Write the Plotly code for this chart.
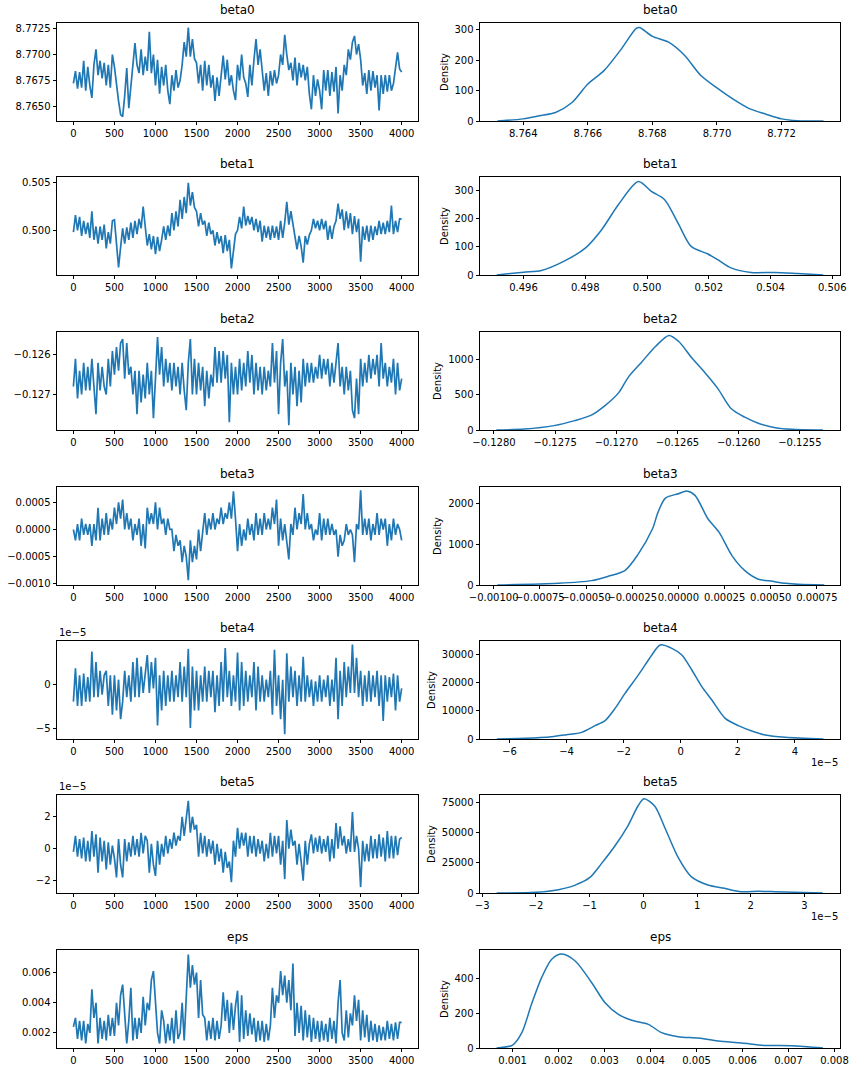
import plotly.graph_objects as go

# ---------------- data ----------------
names = ["beta0", "beta1", "beta2", "beta3", "beta4", "beta5", "eps"]
iters = list(range(0, 4001, 25))

# trace values every 25 iterations (one row = 100 iterations)
beta0_trace = [
    8.7672, 8.7684, 8.7667, 8.7683,  8.7668, 8.7694, 8.7665, 8.7688,  8.7670, 8.7658, 8.7690, 8.7705,
    8.7680, 8.7694, 8.7677, 8.7692,  8.7670, 8.7690, 8.7668, 8.7700,  8.7688, 8.7670, 8.7655, 8.7642,
    8.7640, 8.7660, 8.7687, 8.7648,  8.7670, 8.7685, 8.7711, 8.7690,  8.7682, 8.7705, 8.7680, 8.7698,
    8.7684, 8.7722, 8.7682, 8.7700,  8.7670, 8.7695, 8.7662, 8.7688,  8.7670, 8.7690, 8.7665, 8.7652,
    8.7680, 8.7665, 8.7685, 8.7668,  8.7675, 8.7690, 8.7712, 8.7698,  8.7726, 8.7698, 8.7715, 8.7696,
    8.7692, 8.7672, 8.7690, 8.7665,  8.7694, 8.7670, 8.7690, 8.7668,  8.7680, 8.7655, 8.7678, 8.7660,
    8.7680, 8.7699, 8.7676, 8.7695,  8.7670, 8.7680, 8.7665, 8.7656,  8.7690, 8.7675, 8.7700, 8.7678,
    8.7672, 8.7659, 8.7690, 8.7670,  8.7695, 8.7715, 8.7690, 8.7705,  8.7685, 8.7665, 8.7682, 8.7660,
    8.7684, 8.7670, 8.7685, 8.7672,  8.7680, 8.7700, 8.7690, 8.7719,  8.7700, 8.7685, 8.7692, 8.7675,
    8.7697, 8.7670, 8.7692, 8.7678,  8.7690, 8.7675, 8.7688, 8.7662,  8.7647, 8.7680, 8.7660, 8.7676,
    8.7665, 8.7647, 8.7685, 8.7665,  8.7685, 8.7660, 8.7683, 8.7664,  8.7688, 8.7643, 8.7680, 8.7665,
    8.7690, 8.7680, 8.7705, 8.7695,  8.7712, 8.7718, 8.7700, 8.7710,  8.7695, 8.7670, 8.7682, 8.7662,
    8.7685, 8.7665, 8.7684, 8.7668,  8.7680, 8.7646, 8.7680, 8.7662,  8.7680, 8.7664, 8.7680, 8.7665,
    8.7672, 8.7690, 8.7702, 8.7686,  8.7683]
beta1_trace = [
    0.4998, 0.5016, 0.5000, 0.5014,  0.4994, 0.5010, 0.4996, 0.5008,  0.4992, 0.5020, 0.4990, 0.5004,
    0.4986, 0.5004, 0.4990, 0.5006,  0.4981, 0.4998, 0.4986, 0.5010,  0.5011, 0.4985, 0.4961, 0.4982,
    0.5002, 0.4986, 0.5003, 0.4990,  0.5008, 0.4992, 0.5010, 0.4996,  0.5012, 0.5002, 0.5025, 0.5004,
    0.4984, 0.4996, 0.4980, 0.4994,  0.4975, 0.4993, 0.4978, 0.4990,  0.5004, 0.4990, 0.5005, 0.4994,
    0.5018, 0.5000, 0.5020, 0.5004,  0.5032, 0.5012, 0.5035, 0.5018,  0.5050, 0.5026, 0.5040, 0.5024,
    0.5020, 0.5004, 0.5018, 0.5006,  0.5010, 0.4994, 0.5008, 0.4996,  0.5000, 0.4984, 0.4998, 0.4986,
    0.4994, 0.4976, 0.4995, 0.4978,  0.4990, 0.4960, 0.4982, 0.4996,  0.5000, 0.5014, 0.5002, 0.5025,
    0.5005, 0.5015, 0.5006, 0.5014,  0.5000, 0.5012, 0.4998, 0.5010,  0.4988, 0.5005, 0.4992, 0.5004,
    0.4990, 0.5005, 0.4992, 0.5004,  0.4990, 0.5010, 0.4992, 0.5008,  0.5030, 0.5006, 0.5020, 0.5005,
    0.4995, 0.4980, 0.4994, 0.4983,  0.4966, 0.4994, 0.4985, 0.4995,  0.5000, 0.5012, 0.5002, 0.5010,
    0.5000, 0.5012, 0.5001, 0.5010,  0.4990, 0.5005, 0.4991, 0.5004,  0.5010, 0.5028, 0.5012, 0.5022,
    0.5000, 0.5020, 0.5002, 0.5018,  0.4996, 0.5015, 0.4998, 0.5012,  0.4967, 0.5004, 0.4990, 0.5005,
    0.4988, 0.5005, 0.4990, 0.5004,  0.4995, 0.5010, 0.4996, 0.5008,  0.4996, 0.5010, 0.4998, 0.5026,
    0.4996, 0.5010, 0.4998, 0.5012,  0.5012]
beta2_trace = [
    -0.1268, -0.1261, -0.1271, -0.1264,  -0.1270, -0.1262, -0.1269, -0.1263,  -0.1269, -0.1261, -0.1268, -0.1275,
    -0.1262, -0.1269, -0.1263, -0.1268,  -0.1270, -0.1261, -0.1268, -0.1259,  -0.1265, -0.1258, -0.1264, -0.1257,
    -0.1256, -0.1266, -0.1257, -0.1265,  -0.1263, -0.1270, -0.1264, -0.1275,  -0.1264, -0.1272, -0.1265, -0.1271,
    -0.1262, -0.1270, -0.1264, -0.1276,  -0.1266, -0.12555, -0.1265, -0.1258,  -0.1268, -0.1261, -0.1267, -0.1262,
    -0.1269, -0.1262, -0.1268, -0.1263,  -0.1270, -0.1262, -0.1269, -0.1274,  -0.1262, -0.1256, -0.1270, -0.1261,
    -0.1270, -0.1262, -0.1269, -0.1263,  -0.1273, -0.1264, -0.1271, -0.1265,  -0.1268, -0.1258, -0.1267, -0.1259,
    -0.1267, -0.1259, -0.1266, -0.1260,  -0.1277, -0.1262, -0.1270, -0.1263,  -0.1270, -0.1261, -0.1269, -0.1262,
    -0.1268, -0.1259, -0.1267, -0.1260,  -0.1270, -0.1262, -0.1269, -0.1263,  -0.1270, -0.1263, -0.1269, -0.1264,
    -0.1268, -0.1257, -0.1267, -0.1259,  -0.1275, -0.1262, -0.1256, -0.1268,  -0.1264, -0.12778, -0.1262, -0.1270,
    -0.1263, -0.1273, -0.1264, -0.1272,  -0.1261, -0.1268, -0.1262, -0.1267,  -0.1262, -0.1267, -0.1263, -0.1266,
    -0.1260, -0.1266, -0.1261, -0.1265,  -0.1261, -0.1268, -0.1262, -0.1267,  -0.1262, -0.1257, -0.1268, -0.1263,
    -0.1270, -0.1263, -0.1269, -0.1264,  -0.1274, -0.1276, -0.1266, -0.1275,  -0.1261, -0.1268, -0.1262, -0.1267,
    -0.1260, -0.1266, -0.1261, -0.1265,  -0.1260, -0.1268, -0.1257, -0.1266,  -0.1262, -0.1268, -0.1263, -0.1267,
    -0.1261, -0.1270, -0.1262, -0.1269,  -0.1266]
beta3_trace = [
    0.0000, -0.0002, 0.0001, -0.0002,  0.0002, -0.0001, 0.0001, -0.0001,  0.0001, -0.0003, 0.0001, -0.0002,
    0.0004, -0.0002, 0.0002, -0.0001,  0.0003, -0.0001, 0.0002, 0.0000,  0.0004, 0.0001, 0.0005, 0.0002,
    0.00055, 0.0000, 0.0003, 0.0000,  0.0002, -0.0002, 0.0001, -0.0001,  0.0002, -0.0003, 0.0001, -0.00035,
    0.0004, 0.0001, 0.0003, 0.0001,  0.0005, 0.0000, 0.0004, 0.0001,  0.0002, -0.0001, 0.0002, 0.0000,
    0.0000, -0.0004, -0.0001, -0.0003,  -0.0002, -0.0006, -0.0003, -0.0005,  -0.00093, -0.0002, -0.0006, -0.0003,
    -0.00055, 0.0000, -0.0004, -0.0001,  0.0003, -0.0001, 0.0002, 0.0000,  0.0003, 0.0000, 0.0002, 0.0001,
    0.0004, 0.0001, 0.0003, 0.0002,  0.0005, 0.0002, 0.0007, 0.0002,  -0.0004, 0.0001, -0.0003, 0.0000,
    -0.0002, 0.0002, -0.0001, 0.0001,  -0.0002, 0.0003, -0.0001, 0.0002,  -0.0001, 0.0003, 0.0000, 0.0002,
    0.0000, 0.0004, 0.0001, 0.00055,  -0.0003, 0.0002, -0.0002, 0.0001,  -0.0002, -0.00055, 0.0001, -0.0001,
    0.0004, 0.0000, 0.0003, 0.0001,  0.00065, 0.0000, 0.0003, 0.0000,  0.0001, -0.0002, 0.0000, -0.0001,
    0.0003, -0.0002, 0.0002, -0.0001,  0.0002, -0.0001, 0.0001, -0.0001,  0.0000, -0.0005, -0.0001, -0.0003,
    -0.0002, 0.0001, -0.0001, 0.0000,  -0.0001, -0.0006, 0.0001, 0.0000,  0.00072, -0.0001, 0.0002, -0.0001,
    0.0002, -0.0002, 0.0001, -0.0001,  0.0003, -0.0001, 0.0002, 0.0000,  0.0002, -0.0003, 0.0001, -0.0002,
    0.0002, -0.0001, 0.0001, 0.0000,  -0.0002]
# beta4 and beta5 in units of 1e-5
beta4_trace_e5 = [
    -2.0, 1.8, -2.5, 1.0,  -2.5, 1.2, -2.0, 0.8,  -2.0, 3.7, -1.5, 2.5,  -1.5, 1.5, -1.2, 1.0,
    1.5, -2.5, 1.0, -3.5,  1.0, -3.0, 0.5, -4.0,  -2.0, 1.5, -1.5, 1.0,  -2.0, 2.5, -1.5, 3.0,
    -1.5, 2.0, -1.0, 1.5,  3.3, -1.0, 2.5, -0.5,  3.0, -4.7, 1.0, -3.0,  1.5, -2.5, 1.0, -2.0,
    1.5, -2.0, 1.0, -1.5,  2.5, -2.0, 2.0, -1.5,  4.0, -5.0, 2.0, -3.0,  1.5, -3.0, 1.0, -2.0,
    2.0, -2.0, 1.5, -1.5,  1.5, -3.2, 1.0, -2.5,  2.5, -2.0, 4.1, -1.5,  1.5, -2.5, 1.0, -2.0,
    3.6, -3.0, 2.5, -2.5,  1.5, -2.0, 1.0, -1.5,  2.5, -3.0, 2.0, -2.0,  1.0, -2.0, 0.5, -1.5,
    1.5, -3.5, 3.9, -2.5,  1.0, -4.0, 0.5, -5.7,  3.5, -2.0, 2.0, -1.5,  1.5, -2.5, 1.0, -2.0,
    3.1, -2.0, 1.0, -1.5,  0.5, -2.5, 0.3, -2.0,  1.0, -2.0, 0.5, -1.5,  1.0, -2.5, 0.5, -2.0,
    3.0, -4.0, 1.5, -2.5,  2.5, -1.5, 2.0, -1.0,  4.5, -1.0, 3.0, -1.5,  1.5, -2.5, 1.0, -2.0,
    1.5, -2.0, 1.0, -1.5,  1.5, -2.5, 1.0, -4.2,  1.0, -2.0, 0.8, -1.5,  1.2, -3.0, 1.0, -2.0,
    -0.5]
beta5_trace_e5 = [
    -0.2, 0.8, -0.5, 0.6,  -0.6, 0.7, -0.8, 0.5,  -0.8, 1.1, -0.5, 0.9,  -1.5, 0.7, -0.8, 0.5,
    -1.3, 0.4, -1.0, 0.2,  -0.6, -1.8, 0.6, -1.0,  -1.8, 0.6, -0.8, 0.4,  -0.5, 0.8, -0.4, 0.6,
    -0.5, 1.0, -0.3, 0.8,  0.5, -1.5, 0.3, -1.0,  -1.7, 0.5, -1.0, 0.3,  -0.5, 0.8, -0.3, 0.6,
    0.0, 1.0, 0.2, 0.8,  0.5, 2.0, 0.8, 1.8,  3.0, 1.0, 2.0, 1.2,  1.5, -0.5, 1.0, -0.3,
    0.8, -0.5, 0.6, -0.3,  0.5, -1.0, 0.3, -0.8,  0.0, -1.5, -0.2, -1.2,  -0.8, -2.1, 0.5, -0.5,
    1.3, 0.0, 1.0, 0.2,  1.0, -0.5, 0.8, -0.3,  0.8, -0.5, 0.6, -0.3,  0.5, -0.8, 0.3, -0.6,
    1.0, -0.5, 0.8, -0.3,  0.8, -1.0, 0.5, -1.9,  1.8, 0.0, 1.2, 0.2,  0.5, -1.0, 0.3, -0.8,
    -2.0, 0.5, -1.0, 0.3,  0.9, -0.3, 0.7, -0.2,  0.8, -0.3, 0.6, -0.2,  0.8, -0.8, 0.6, -0.6,
    1.6, 0.0, 1.4, 0.2,  0.8, -0.3, 0.6, -0.2,  2.3, -0.2, 0.8, 0.0,  -2.4, 0.5, -0.8, 0.3,
    -0.8, 0.8, -0.6, 0.6,  -0.6, 0.9, -0.5, 0.7,  -0.8, 1.1, -0.6, 0.8,  -0.6, 0.8, -0.4, 0.6,
    0.7]
eps_trace = [
    0.0024, 0.0030, 0.0016, 0.0028,  0.0015, 0.0028, 0.0013, 0.0026,  0.0020, 0.0049, 0.0030, 0.0040,
    0.0013, 0.0030, 0.0016, 0.0028,  0.0015, 0.0032, 0.0018, 0.0030,  0.0018, 0.0040, 0.0025, 0.0045,
    0.0052, 0.0030, 0.0013, 0.0028,  0.0050, 0.0015, 0.0030, 0.0016,  0.0030, 0.0020, 0.0044, 0.0025,
    0.0040, 0.0035, 0.0055, 0.0061,  0.0040, 0.0020, 0.0013, 0.0035,  0.0028, 0.0013, 0.0026, 0.0015,
    0.0030, 0.0013, 0.0035, 0.0016,  0.0020, 0.0040, 0.0015, 0.0045,  0.0072, 0.0050, 0.0065, 0.0052,
    0.0060, 0.0030, 0.0055, 0.0032,  0.0030, 0.0015, 0.0028, 0.0016,  0.0030, 0.0015, 0.0028, 0.0016,
    0.0025, 0.0047, 0.0028, 0.0042,  0.0020, 0.0040, 0.0022, 0.0038,  0.0048, 0.0014, 0.0045, 0.0016,
    0.0035, 0.0018, 0.0033, 0.0019,  0.0030, 0.0014, 0.0028, 0.0015,  0.0028, 0.0014, 0.0026, 0.0015,
    0.0025, 0.0050, 0.0030, 0.0045,  0.0040, 0.0061, 0.0045, 0.0058,  0.0040, 0.0055, 0.0035, 0.0066,
    0.0018, 0.0040, 0.0020, 0.0038,  0.0015, 0.0035, 0.0017, 0.0032,  0.0014, 0.0030, 0.0016, 0.0028,
    0.0014, 0.0028, 0.0015, 0.0026,  0.0014, 0.0030, 0.0016, 0.0028,  0.0013, 0.0040, 0.0055, 0.0020,
    0.0015, 0.0035, 0.0017, 0.0033,  0.0025, 0.0045, 0.0028, 0.0042,  0.0015, 0.0035, 0.0017, 0.0032,
    0.0014, 0.0028, 0.0015, 0.0026,  0.0014, 0.0025, 0.0015, 0.0024,  0.0015, 0.0028, 0.0016, 0.0026,
    0.0015, 0.0027, 0.0016, 0.0027,  0.0027]

# KDE curves (x, density)
beta0_kde_x = [8.7632, 8.7640, 8.7645, 8.7650, 8.7655, 8.7660, 8.7665, 8.7670, 8.7675, 8.7676,
               8.7680, 8.7685, 8.7690, 8.7695, 8.7700, 8.7705, 8.7710, 8.7715, 8.7720, 8.7725, 8.7733]
beta0_kde_y = [0, 7, 17, 28, 60, 122, 166, 232, 305, 308, 279, 260, 216, 150, 109, 72, 41, 23, 7, 1, 0]
beta1_kde_x = [0.49513, 0.4960, 0.49658, 0.4973, 0.4980, 0.49853, 0.49907, 0.49972, 0.50014, 0.50057,
               0.50100, 0.50143, 0.50197, 0.50229, 0.50272, 0.50337, 0.50413, 0.50488, 0.50571]
beta1_kde_y = [0, 10, 16, 48, 95, 160, 248, 330, 295, 266, 184, 101, 74, 54, 25, 9, 9, 5, 0]
beta2_kde_x = [-0.12798, -0.12775, -0.12751, -0.12734, -0.12720, -0.12709, -0.12698, -0.12690, -0.12679,
               -0.12668, -0.12657, -0.12649, -0.12638, -0.12627, -0.12617, -0.12606, -0.12595, -0.12584,
               -0.12570, -0.12557, -0.12531]
beta2_kde_y = [0, 14, 62, 133, 214, 348, 529, 752, 967, 1181, 1338, 1252, 1014, 800, 586, 300, 181, 95, 33, 10, 0]
beta3_kde_x = [-0.00098, -0.00065, -0.00047, -0.00038, -0.00029, -0.00022, -0.00014, -0.00011, -0.00007,
               0.00000, 0.000045, 0.00009, 0.00016, 0.00022, 0.00029, 0.00036, 0.00043, 0.00051, 0.00058,
               0.00065, 0.00079]
beta3_kde_y = [0, 41, 107, 213, 352, 738, 1377, 1787, 2131, 2238, 2303, 2197, 1623, 1295, 721, 352, 148, 90, 41, 16, 0]
beta4_kde_x_e5 = [-6.44, -5.45, -4.52, -4.0, -3.47, -3.0, -2.65, -2.30, -1.95, -1.48, -1.01, -0.72, -0.31,
                  0.04, 0.39, 0.74, 1.09, 1.56, 2.02, 2.49, 2.96, 3.66, 5.0]
beta4_kde_y = [0, 240, 830, 1540, 2370, 4740, 6520, 10900, 16250, 22800, 29900, 33450, 32270,
               29900, 24550, 18620, 13880, 7350, 4740, 2850, 1420, 590, 0]
beta5_kde_x_e5 = [-2.73, -2.0, -1.58, -1.28, -1.0, -0.78, -0.53, -0.29, -0.10, 0.01, 0.21, 0.40, 0.65,
                  0.89, 1.20, 1.51, 1.82, 2.14, 2.45, 3.34]
beta5_kde_y = [0, 550, 2750, 6300, 12600, 24200, 38700, 55200, 71700, 77750, 71700, 53800, 29100,
               13500, 6600, 3850, 1100, 1370, 1100, 0]
eps_kde_x = [0.00065, 0.0010, 0.0012, 0.00141, 0.00163, 0.00185, 0.00207, 0.00236, 0.00272, 0.00301,
             0.00330, 0.00359, 0.00395, 0.00424, 0.00460, 0.00504, 0.00547, 0.00598, 0.00649, 0.00707, 0.00775]
eps_kde_y = [0, 17, 88, 251, 404, 510, 540, 500, 375, 260, 193, 159, 136, 88, 65, 57, 40, 29, 15, 13, 0]

traces = [beta0_trace, beta1_trace, beta2_trace, beta3_trace, beta4_trace_e5, beta5_trace_e5, eps_trace]
kdes = [(beta0_kde_x, beta0_kde_y), (beta1_kde_x, beta1_kde_y), (beta2_kde_x, beta2_kde_y),
        (beta3_kde_x, beta3_kde_y), (beta4_kde_x_e5, beta4_kde_y), (beta5_kde_x_e5, beta5_kde_y),
        (eps_kde_x, eps_kde_y)]

# axis settings
trace_yrange = [[8.76357, 8.77305], [0.4953, 0.5056], [-0.12790, -0.12542], [-0.00102, 0.00078],
                [-6.25, 4.9], [-2.77, 3.36], [0.0010, 0.0075]]
trace_ytick = [[8.7650, 8.7675, 8.7700, 8.7725], [0.500, 0.505], [-0.127, -0.126],
               [-0.0010, -0.0005, 0.0, 0.0005], [-5, 0], [-2, 0, 2], [0.002, 0.004, 0.006]]
trace_yfmt = [".4f", ".3f", ".3f", ".4f", "d", "d", ".3f"]

kde_xrange = [[8.76266, 8.77381], [0.49459, 0.50625], [-0.128114, -0.125172], [-0.001074, 0.000875],
              [-7.03, 5.58], [-3.04, 3.66], [0.00029, 0.00812]]
kde_xtick = [[8.764, 8.766, 8.768, 8.770, 8.772], [0.496, 0.498, 0.500, 0.502, 0.504, 0.506],
             [-0.1280, -0.1275, -0.1270, -0.1265, -0.1260, -0.1255],
             [-0.00100, -0.00075, -0.00050, -0.00025, 0.0, 0.00025, 0.00050, 0.00075],
             [-6, -4, -2, 0, 2, 4], [-3, -2, -1, 0, 1, 2, 3],
             [0.001, 0.002, 0.003, 0.004, 0.005, 0.006, 0.007, 0.008]]
kde_xfmt = [".3f", ".3f", ".4f", ".5f", "d", "d", ".3f"]
kde_ytop = [323, 346, 1386, 2402, 34875, 80770, 563]
kde_ytick = [[0, 100, 200, 300], [0, 100, 200, 300], [0, 500, 1000], [0, 1000, 2000],
             [0, 10000, 20000, 30000], [0, 25000, 50000, 75000], [0, 200, 400]]

# ---------------- figure ----------------
W, H = 856, 1072
BLUE = "#1f77b4"
FONT = "DejaVu Sans"
LEFT = (57, 418)
RIGHT = (480, 840)
TOPS = [23, 177, 332, 487, 641, 795, 950]
HGT = 98

fig = go.Figure()
layout = {}
annotations = []


def base_axis():
    return dict(showline=True, linecolor="black", linewidth=0.8, mirror=True,
                ticks="outside", ticklen=3.5, tickwidth=0.8, tickcolor="black",
                showgrid=False, zeroline=False, automargin=False, tickangle=0,
                tickfont=dict(family=FONT, size=10, color="black"))


def ref(n, k):
    return k if n == 1 else f"{k}{n}"


def key(n, k):
    return f"{k}axis" if n == 1 else f"{k}axis{n}"


for i, name in enumerate(names):
    top = TOPS[i]
    bot = top + HGT
    yd = [1 - bot / H, 1 - top / H]
    nl, nr = 2 * i + 1, 2 * i + 2

    # trace plot
    fig.add_trace(go.Scatter(x=iters, y=traces[i], mode="lines",
                             line=dict(color=BLUE, width=1.7),
                             xaxis=ref(nl, "x"), yaxis=ref(nl, "y"), showlegend=False))
    xa = base_axis()
    xa.update(domain=[LEFT[0] / W, LEFT[1] / W], anchor=ref(nl, "y"), range=[-200, 4199],
              tickvals=list(range(0, 4001, 500)), tickformat="d")
    ya = base_axis()
    ya.update(domain=yd, anchor=ref(nl, "x"), range=trace_yrange[i],
              tickvals=trace_ytick[i], tickformat=trace_yfmt[i])
    layout[key(nl, "x")] = xa
    layout[key(nl, "y")] = ya

    # density plot
    kx, ky = kdes[i]
    fig.add_trace(go.Scatter(x=kx, y=ky, mode="lines",
                             line=dict(color=BLUE, width=1.5, shape="spline", smoothing=0.8),
                             xaxis=ref(nr, "x"), yaxis=ref(nr, "y"), showlegend=False))
    xa = base_axis()
    xa.update(domain=[RIGHT[0] / W, RIGHT[1] / W], anchor=ref(nr, "y"), range=kde_xrange[i],
              tickvals=kde_xtick[i], tickformat=kde_xfmt[i])
    ya = base_axis()
    ya.update(domain=yd, anchor=ref(nr, "x"), range=[0, kde_ytop[i]],
              tickvals=kde_ytick[i], tickformat="d",
              title=dict(text="Density", font=dict(family=FONT, size=10, color="black"), standoff=4))
    layout[key(nr, "x")] = xa
    layout[key(nr, "y")] = ya

    # titles
    for (l, r) in (LEFT, RIGHT):
        annotations.append(dict(text=name, x=(l + r) / 2 / W, y=1 - (top - 4) / H,
                                xref="paper", yref="paper", xanchor="center", yanchor="bottom",
                                showarrow=False, font=dict(family=FONT, size=12, color="black")))

# offset texts (1e-5)
for i in (4, 5):
    top = TOPS[i]
    annotations.append(dict(text="1e\u22125", x=LEFT[0] / W, y=1 - (top - 1) / H, xref="paper", yref="paper",
                            xanchor="left", yanchor="bottom", showarrow=False,
                            font=dict(family=FONT, size=10, color="black")))
    annotations.append(dict(text="1e\u22125", x=RIGHT[1] / W, y=1 - (top + HGT + 16) / H, xref="paper",
                            yref="paper", xanchor="right", yanchor="top", showarrow=False,
                            font=dict(family=FONT, size=10, color="black")))

fig.update_layout(**layout)
fig.update_layout(width=W, height=H, margin=dict(l=0, r=0, t=0, b=0),
                  paper_bgcolor="white", plot_bgcolor="white",
                  font=dict(family=FONT, size=10, color="black"),
                  annotations=annotations, showlegend=False)

fig.write_html("out.html", config={"displayModeBar": False},
               post_script="document.body.style.margin='0px';")
